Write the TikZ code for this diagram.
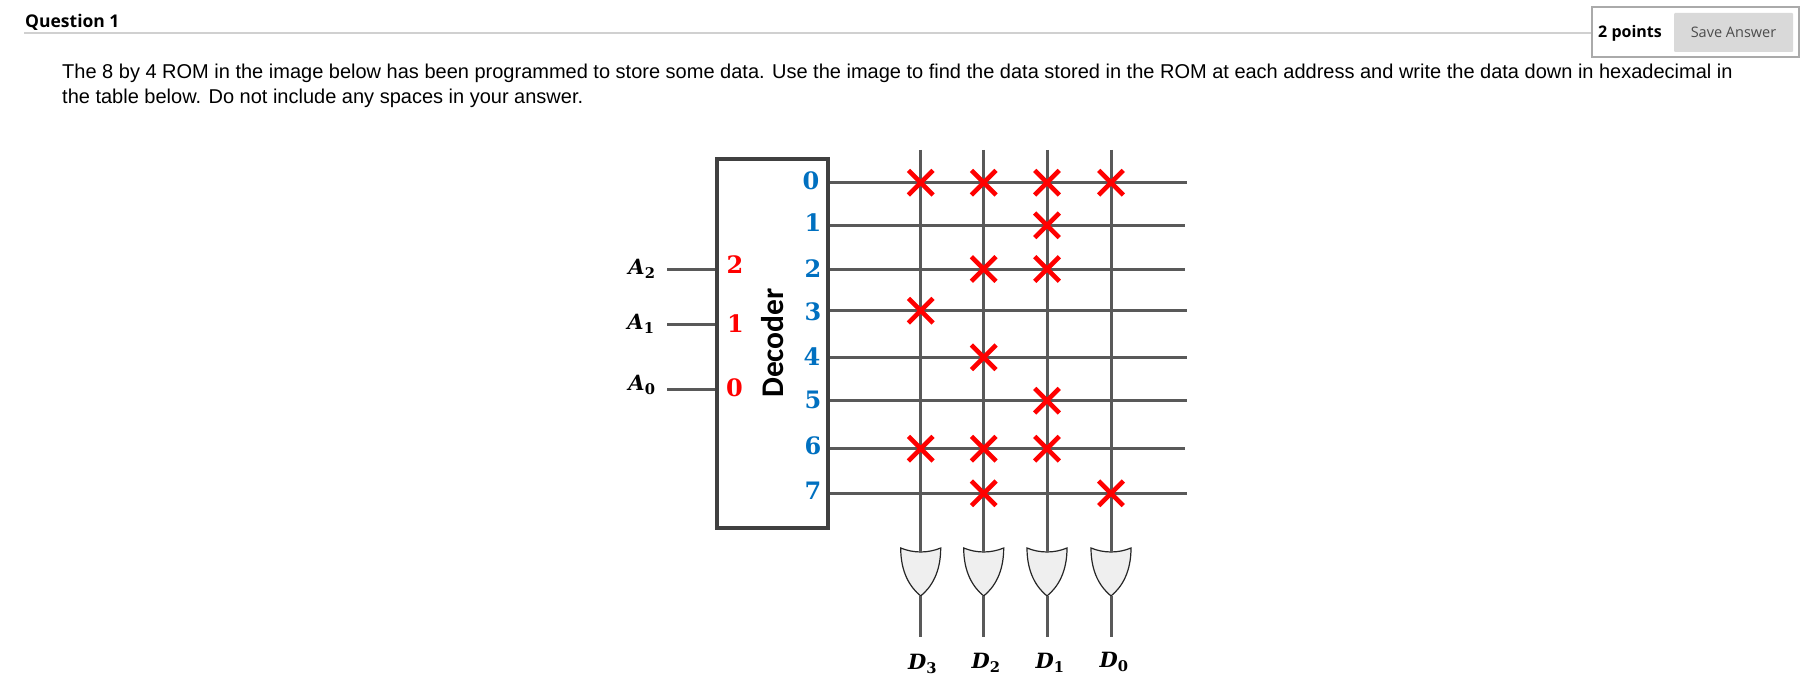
\documentclass[tikz,border=0pt]{standalone}
\usepackage{fontspec}
\setmainfont{Liberation Sans}
\newfontfamily\opensans{Open Sans}
\newfontfamily\serifbold{DejaVu Serif}
\newfontfamily\carlito{Carlito}
\usetikzlibrary{positioning, calc, shapes.misc}
\definecolor{wiregray}{RGB}{89,89,89}
\definecolor{boxgray}{RGB}{64,64,64}
\definecolor{addrblue}{RGB}{0,112,192}
\definecolor{rulegray}{RGB}{208,208,208}
\definecolor{framegray}{RGB}{170,170,170}
\definecolor{btngray}{RGB}{217,217,217}
\definecolor{gatefill}{RGB}{239,239,239}
\tikzset{
  wire/.style={draw=wiregray, line width=3pt},
  fuse/.style={cross out, draw=red, line width=4.6pt, minimum size=20pt, inner sep=0pt},
  outnum/.style={font=\serifbold\bfseries\fontsize{24}{24}\selectfont, text=addrblue, inner sep=0pt},
  innum/.style={font=\serifbold\bfseries\fontsize{24}{24}\selectfont, text=red, inner sep=0pt},
  sig/.style={font=\serifbold\bfseries\itshape\fontsize{21}{21}\selectfont, inner sep=0pt},
  orgate/.pic={
    \draw[fill=gatefill, draw=black!85, line width=1.2pt] (-20,-4)
      .. controls (-20,20) and (-11,35) .. (0,44)
      .. controls (11,35) and (20,20) .. (20,-4)
      .. controls (7,1.3) and (-7,1.3) .. cycle;
    \coordinate (-in) at (0,0);
    \coordinate (-out) at (0,44);
  }
}
\newcommand{\subnum}[2]{#1\textsubscript{\upshape #2}}
\begin{document}
\begin{tikzpicture}[x=1pt, y=-1pt]
    \useasboundingbox (0,0) rectangle (1812,698);

    % page header
    \node[font=\opensans\bfseries\fontsize{17.5}{20}\selectfont, inner sep=0pt, anchor=base west] (title) at (25,28) {Question 1};
    \node[draw=framegray, line width=1.2pt, minimum width=207pt, minimum height=50pt, inner sep=0pt] (frame) at (1695.5,32) {};
    \coordinate (rulestart) at (24,33);
    \draw[rulegray, line width=1.2pt] (rulestart) -- (rulestart -| frame.west);
    \node[font=\opensans\bfseries\fontsize{16}{20}\selectfont, inner sep=0pt, anchor=base west] (points) at (1598,38) {2 points};
    \node[fill=btngray, rounded corners=1pt, minimum width=119pt, minimum height=39pt, inner sep=0pt, text=black!70, font=\opensans\fontsize{14.5}{18}\selectfont] (save) at (1733.5,32.5) {Save Answer};
    \node[align=left, inner sep=0pt, anchor=north west, font=\fontsize{20}{25}\selectfont] (question) at (62,64) {The 8 by 4 ROM in the image below has been programmed to store some data. Use the image to find the data stored in the ROM at each address and write the data down in hexadecimal in\\the table below. Do not include any spaces in your answer.};

    % decoder
    \node[draw=boxgray, line width=3.8pt, minimum width=111pt, minimum height=369pt, inner sep=0pt] (dec) at (772.8,343.5) {};
    \node[rotate=90, inner sep=0pt, font=\carlito\bfseries\fontsize{31.5}{31.5}\selectfont] (declabel) at (773,343) {Decoder};

    \node[innum] (in2) at (735,265) {2};
    \node[innum] (in1) at (735.5,324) {1};
    \node[innum] (in0) at (734.5,388) {0};

    \node[outnum] (out0) at (811,181) {0};
    \node[outnum] (out1) at (813,223) {1};
    \node[outnum] (out2) at (813,269) {2};
    \node[outnum] (out3) at (813,312) {3};
    \node[outnum] (out4) at (812,357) {4};
    \node[outnum] (out5) at (813,400) {5};
    \node[outnum] (out6) at (813,446) {6};
    \node[outnum] (out7) at (813,491) {7};

    % address inputs
    \node[sig] (a2) at (642,269) {\subnum{A}{2}};
    \node[sig] (a1) at (641,324) {\subnum{A}{1}};
    \node[sig] (a0) at (642,385) {\subnum{A}{0}};
    \coordinate (a2w) at (667,269);
    \coordinate (a1w) at (667,324);
    \coordinate (a0w) at (667,389);
    \draw[wire] (a2w) -- (a2w -| dec.west);
    \draw[wire] (a1w) -- (a1w -| dec.west);
    \draw[wire] (a0w) -- (a0w -| dec.west);

    % word lines
    \coordinate (r0) at (1187,182.7);
    \coordinate (r1) at (1185,225.3);
    \coordinate (r2) at (1185,269);
    \coordinate (r3) at (1187,310.7);
    \coordinate (r4) at (1187,357.3);
    \coordinate (r5) at (1187,400.7);
    \coordinate (r6) at (1185,448.7);
    \coordinate (r7) at (1187,493.3);
    \draw[wire] (r0 -| dec.east) -- (r0);
    \draw[wire] (r1 -| dec.east) -- (r1);
    \draw[wire] (r2 -| dec.east) -- (r2);
    \draw[wire] (r3 -| dec.east) -- (r3);
    \draw[wire] (r4 -| dec.east) -- (r4);
    \draw[wire] (r5 -| dec.east) -- (r5);
    \draw[wire] (r6 -| dec.east) -- (r6);
    \draw[wire] (r7 -| dec.east) -- (r7);

    % or gates and bit lines
    \coordinate (c3) at (920.7,150);
    \coordinate (c2) at (983.7,150);
    \coordinate (c1) at (1047,150);
    \coordinate (c0) at (1111,150);
    \pic (g3) at (c3 |- 0,552) {orgate};
    \pic (g2) at (c2 |- 0,552) {orgate};
    \pic (g1) at (c1 |- 0,552) {orgate};
    \pic (g0) at (c0 |- 0,552) {orgate};
    \coordinate (o3) at (c3 |- 0,637);
    \coordinate (o2) at (c2 |- 0,637);
    \coordinate (o1) at (c1 |- 0,637);
    \coordinate (o0) at (c0 |- 0,637);
    \draw[wire] (c3) -- (g3-in);
    \draw[wire] (c2) -- (g2-in);
    \draw[wire] (c1) -- (g1-in);
    \draw[wire] (c0) -- (g0-in);
    \draw[wire] (g3-out) -- (o3);
    \draw[wire] (g2-out) -- (o2);
    \draw[wire] (g1-out) -- (o1);
    \draw[wire] (g0-out) -- (o0);

    \node[sig] (d3) at (922.7,664) {\subnum{D}{3}};
    \node[sig] (d2) at (986,663) {\subnum{D}{2}};
    \node[sig] (d1) at (1050,662.5) {\subnum{D}{1}};
    \node[sig] (d0) at (1114,662) {\subnum{D}{0}};

    % programmed crossings
    \node[fuse] (x03) at (c3 |- r0) {};
    \node[fuse] (x02) at (c2 |- r0) {};
    \node[fuse] (x01) at (c1 |- r0) {};
    \node[fuse] (x00) at (c0 |- r0) {};
    \node[fuse] (x11) at (c1 |- r1) {};
    \node[fuse] (x22) at (c2 |- r2) {};
    \node[fuse] (x21) at (c1 |- r2) {};
    \node[fuse] (x33) at (c3 |- r3) {};
    \node[fuse] (x42) at (c2 |- r4) {};
    \node[fuse] (x51) at (c1 |- r5) {};
    \node[fuse] (x63) at (c3 |- r6) {};
    \node[fuse] (x62) at (c2 |- r6) {};
    \node[fuse] (x61) at (c1 |- r6) {};
    \node[fuse] (x72) at (c2 |- r7) {};
    \node[fuse] (x70) at (c0 |- r7) {};
\end{tikzpicture}
\end{document}
